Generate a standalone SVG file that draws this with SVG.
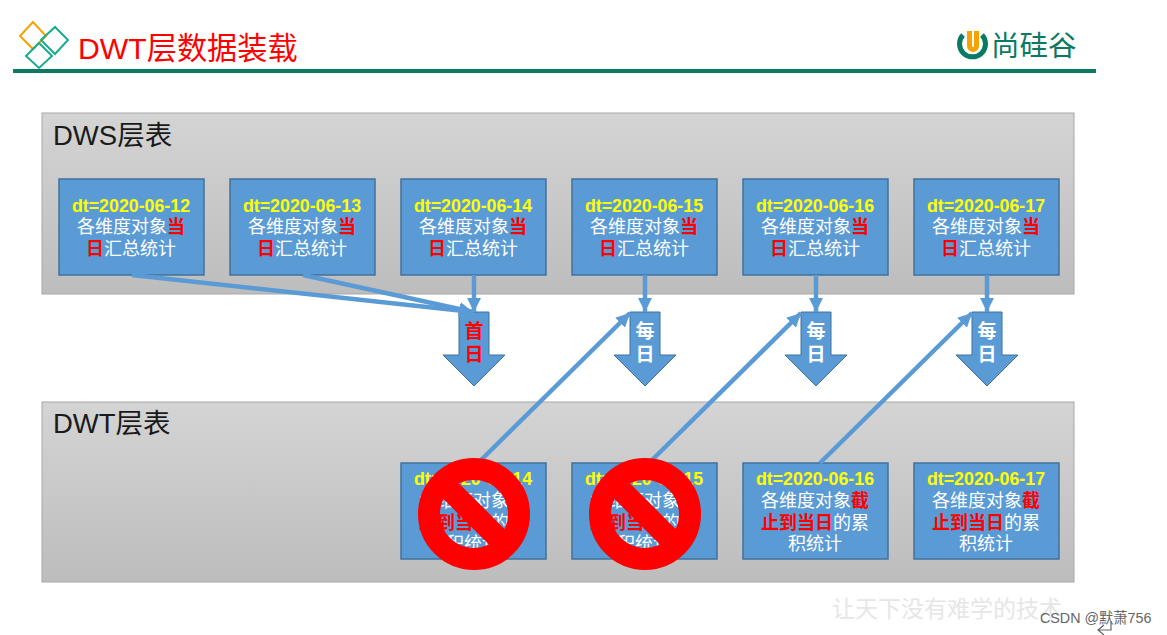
<svg xmlns="http://www.w3.org/2000/svg" width="1167" height="635" viewBox="0 0 1167 635">
<defs>
<linearGradient id="panel" x1="0" y1="0" x2="0" y2="1"><stop offset="0" stop-color="#d4d4d4"/><stop offset="1" stop-color="#bdbdbd"/></linearGradient>
<marker id="ah" markerUnits="userSpaceOnUse" markerWidth="16" markerHeight="16" refX="14" refY="8" orient="auto"><path d="M0 1L14 8L0 15Z" fill="#5b9bd5"/></marker>
</defs>
<style>
text{font-family:"Liberation Sans","Noto Sans CJK SC",sans-serif}
.panel{fill:url(#panel);stroke:#a8a8a8;stroke-width:1}
.box{fill:#5b9bd5;stroke:#41719c;stroke-width:1.5}
.dt{font-size:17.8px;font-weight:bold;fill:#ffff00;text-anchor:middle}
.t{font-size:18px;fill:#fff;text-anchor:middle}
.r{fill:#f00;font-weight:bold}
.ttl{font-size:27.5px;fill:#1a1a1a}
.arrow{fill:#5b9bd5;stroke:#41719c;stroke-width:1}
.lab{font-size:19px;font-weight:bold;fill:#fff;text-anchor:middle}
.conn{stroke:#5b9bd5;stroke-width:4.5;fill:none}
.no{fill:none;stroke:#f00;stroke-width:22}
</style>
<g id="header">
<path d="M20 36L33 22L46 36L33 49Z" fill="none" stroke="#f5a300" stroke-width="2"/>
<path d="M41 40L55 27L68 40L55 54Z" fill="none" stroke="#1aab8f" stroke-width="2"/>
<path d="M26 56L39 43L52 56L39 68Z" fill="none" stroke="#1aab8f" stroke-width="2"/>
<text x="78" y="59" font-size="30.200" fill="#f00">DWT层数据装载</text>
<rect x="13" y="69" width="1083" height="4" fill="#0a7a63"/>
<path d="M963 35A13 13 0 1 0 982 35" fill="none" stroke="#0a7a63" stroke-width="5"/>
<path d="M969.500 31V46a3.500 3.500 0 0 0 7 0V31" fill="none" stroke="#f5a300" stroke-width="5"/>
<text x="991" y="56" font-size="28.500" fill="#0a7a63">尚硅谷</text>
</g>
<g id="dws"><rect class="panel" x="42" y="113" width="1032" height="181"/><text class="ttl" x="53" y="145">DWS层表</text></g>
<g id="dwt"><rect class="panel" x="42" y="402" width="1032" height="180"/><text class="ttl" x="53" y="433">DWT层表</text></g>
<g id="dws-12"><rect class="box" x="59" y="179" width="145" height="96"/><text class="dt" x="131" y="212">dt=2020-06-12</text><text class="t" x="131" y="233">各维度对象<tspan class="r">当</tspan></text><text class="t" x="131" y="255"><tspan class="r">日</tspan>汇总统计</text></g>
<g id="dws-13"><rect class="box" x="230" y="179" width="145" height="96"/><text class="dt" x="302" y="212">dt=2020-06-13</text><text class="t" x="302" y="233">各维度对象<tspan class="r">当</tspan></text><text class="t" x="302" y="255"><tspan class="r">日</tspan>汇总统计</text></g>
<g id="dws-14"><rect class="box" x="401" y="179" width="145" height="96"/><text class="dt" x="473" y="212">dt=2020-06-14</text><text class="t" x="473" y="233">各维度对象<tspan class="r">当</tspan></text><text class="t" x="473" y="255"><tspan class="r">日</tspan>汇总统计</text></g>
<g id="dws-15"><rect class="box" x="572" y="179" width="145" height="96"/><text class="dt" x="644" y="212">dt=2020-06-15</text><text class="t" x="644" y="233">各维度对象<tspan class="r">当</tspan></text><text class="t" x="644" y="255"><tspan class="r">日</tspan>汇总统计</text></g>
<g id="dws-16"><rect class="box" x="743" y="179" width="145" height="96"/><text class="dt" x="815" y="212">dt=2020-06-16</text><text class="t" x="815" y="233">各维度对象<tspan class="r">当</tspan></text><text class="t" x="815" y="255"><tspan class="r">日</tspan>汇总统计</text></g>
<g id="dws-17"><rect class="box" x="914" y="179" width="145" height="96"/><text class="dt" x="986" y="212">dt=2020-06-17</text><text class="t" x="986" y="233">各维度对象<tspan class="r">当</tspan></text><text class="t" x="986" y="255"><tspan class="r">日</tspan>汇总统计</text></g>
<g id="dwt-14"><rect class="box" x="401" y="463" width="145" height="96"/><text class="dt" x="473" y="485">dt=2020-06-14</text><text class="t" x="473" y="507">各维度对象<tspan class="r">截</tspan></text><text class="t" x="473" y="529"><tspan class="r">止到当日</tspan>的累</text><text class="t" x="473" y="550">积统计</text></g>
<g id="dwt-15"><rect class="box" x="572" y="463" width="145" height="96"/><text class="dt" x="644" y="485">dt=2020-06-15</text><text class="t" x="644" y="507">各维度对象<tspan class="r">截</tspan></text><text class="t" x="644" y="529"><tspan class="r">止到当日</tspan>的累</text><text class="t" x="644" y="550">积统计</text></g>
<g id="dwt-16"><rect class="box" x="743" y="463" width="145" height="96"/><text class="dt" x="815" y="485">dt=2020-06-16</text><text class="t" x="815" y="507">各维度对象<tspan class="r">截</tspan></text><text class="t" x="815" y="529"><tspan class="r">止到当日</tspan>的累</text><text class="t" x="815" y="550">积统计</text></g>
<g id="dwt-17"><rect class="box" x="914" y="463" width="145" height="96"/><text class="dt" x="986" y="485">dt=2020-06-17</text><text class="t" x="986" y="507">各维度对象<tspan class="r">截</tspan></text><text class="t" x="986" y="529"><tspan class="r">止到当日</tspan>的累</text><text class="t" x="986" y="550">积统计</text></g>
<g id="arrow-first"><path class="arrow" d="M459 312H489V355H505L474 386L443 355H459Z"/><text class="lab" x="474" y="338" style="fill:#f00">首</text><text class="lab" x="474" y="361" style="fill:#f00">日</text></g>
<g id="arrow-15"><path class="arrow" d="M630 312H660V355H676L645 386L614 355H630Z"/><text class="lab" x="645" y="338">每</text><text class="lab" x="645" y="361">日</text></g>
<g id="arrow-16"><path class="arrow" d="M801 312H831V355H847L816 386L785 355H801Z"/><text class="lab" x="816" y="338">每</text><text class="lab" x="816" y="361">日</text></g>
<g id="arrow-17"><path class="arrow" d="M972 312H1002V355H1018L987 386L956 355H972Z"/><text class="lab" x="987" y="338">每</text><text class="lab" x="987" y="361">日</text></g>
<g id="connectors">
<path class="conn" marker-end="url(#ah)" d="M132 275L473 312"/>
<path class="conn" marker-end="url(#ah)" d="M303 275L473 312"/>
<path class="conn" marker-end="url(#ah)" d="M474 275V312"/>
<path class="conn" marker-end="url(#ah)" d="M645 275V312"/>
<path class="conn" marker-end="url(#ah)" d="M816 275V312"/>
<path class="conn" marker-end="url(#ah)" d="M987 275V312"/>
<path class="conn" marker-end="url(#ah)" d="M478 463L630 313"/>
<path class="conn" marker-end="url(#ah)" d="M649 463L801 313"/>
<path class="conn" marker-end="url(#ah)" d="M820 463L972 313"/>
</g>
<g id="no-14"><circle class="no" cx="474" cy="514" r="45"/><path class="no" d="M442 482L506 546"/></g>
<g id="no-15"><circle class="no" cx="645" cy="514" r="45"/><path class="no" d="M613 482L677 546"/></g>
<g id="footer">
<text x="832" y="617" font-size="23" fill="#e6e6e6" style="font-family:'Noto Sans CJK SC',sans-serif">让天下没有难学的技术</text>
<text x="1040" y="623" font-size="14.300" fill="#666">CSDN @默萧756</text>
<path d="M1111 621V630H1098M1104 625L1098 630L1104 635" fill="none" stroke="#666" stroke-width="1.200"/>
</g>
</svg>
